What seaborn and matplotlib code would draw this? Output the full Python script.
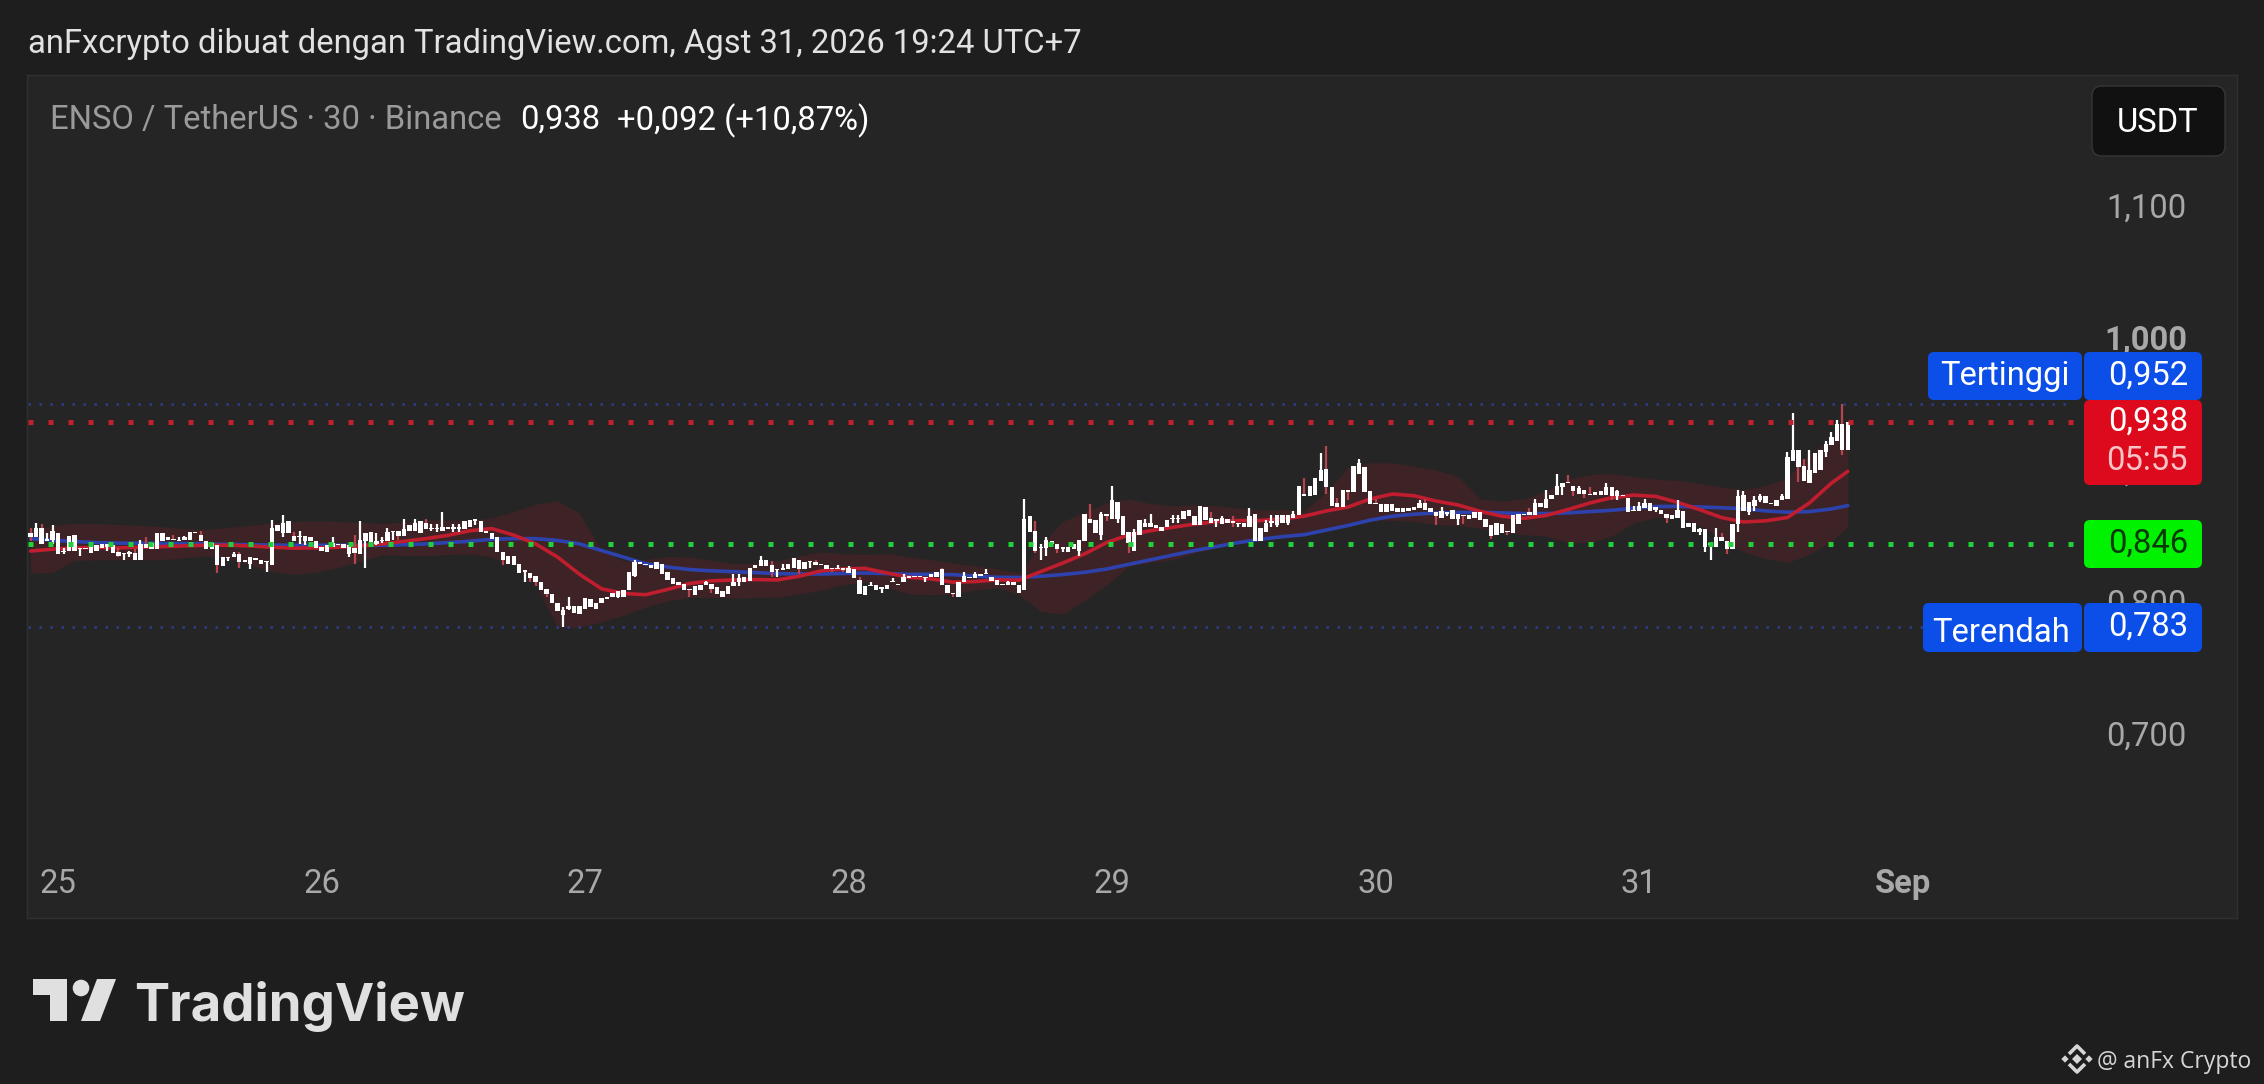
import numpy as np
import pandas as pd
import seaborn as sns
import matplotlib
matplotlib.use("Agg")
import matplotlib.pyplot as plt
from matplotlib.patches import FancyBboxPatch, Polygon, Circle
from matplotlib.transforms import ScaledTranslation

# ==================================================
# DATA  (30 min candles, prices in 1/1000 USDT)
# ==================================================
highs = [
    858,862,861,854,860,854,843,852,853,843, 843,846,845,846,846,845,843,839,841,842,
    849,851,847,854,854,851,853,851,852,855, 855,856,848,847,845,836,836,840,840,834,
    836,835,834,833,864,860,868,863,855,856, 852,851,848,844,845,851,846,846,845,853,
    863,854,855,854,851,858,856,856,865,860, 865,863,865,861,861,870,859,861,861,863,
    864,865,863,856,854,851,840,837,837,831, 826,824,822,817,812,808,801,798,806,799,
    799,805,804,801,805,806,809,810,811,825, 834,832,831,830,832,831,825,820,817,816,
    812,814,815,818,816,813,810,814,823,823, 821,828,830,837,834,833,827,831,831,835,
    834,832,833,834,831,830,828,830,828,829, 827,821,814,817,815,813,815,820,816,823,
    822,822,822,821,823,825,828,815,809,817, 825,821,825,823,827,821,819,816,818,817,
    815,880,867,863,846,851,848,846,844,844, 846,849,869,876,864,870,869,890,878,867,
    855,857,864,865,869,860,859,864,868,868, 871,872,867,875,874,870,865,867,865,867,
    862,862,873,869,858,864,868,868,868,868, 871,890,896,890,896,915,920,889,881,887,
    887,905,910,904,886,880,876,876,876,873, 873,873,874,879,880,873,870,874,870,872,
    869,868,868,870,870,865,860,862,861,856, 868,869,869,873,880,877,887,883,899,892,
    898,890,890,887,889,885,886,892,889,887, 883,881,875,878,880,877,874,872,869,868,
    879,871,862,862,858,857,847,858,854,848, 861,887,886,878,882,884,882,877,879,884,
    916,945,917,910,917,915,917,924,931,940,952,938,
]
body_tops = [
    854,858,858,850,856,854,841,852,853,843, 843,846,845,846,846,845,840,839,840,839,
    846,846,847,854,854,851,850,849,851,855, 855,853,848,847,845,836,836,838,838,834,
    836,835,834,833,858,860,862,863,852,852, 852,851,848,844,845,847,846,846,845,843,
    849,854,855,848,849,855,856,856,857,860, 862,863,862,858,858,859,859,859,859,863,
    864,865,863,856,854,851,840,837,837,831, 826,824,822,817,812,808,801,796,799,799,
    799,805,804,801,805,806,809,810,811,825, 832,832,831,830,832,831,825,820,817,816,
    812,814,815,817,816,813,810,814,817,820, 821,828,830,834,834,830,827,828,831,835,
    834,832,833,832,831,830,828,828,828,828, 827,819,814,815,815,813,815,818,816,821,
    822,822,822,821,823,825,827,815,809,817, 822,821,823,823,824,821,819,816,817,817,
    815,865,867,856,844,849,848,846,844,844, 846,849,869,865,864,869,869,879,878,867,
    855,855,864,862,862,860,859,864,866,866, 871,872,867,875,874,866,865,866,865,863,
    862,862,867,869,858,862,863,868,868,868, 869,890,884,890,896,902,903,889,877,887,
    887,905,907,904,886,877,876,876,876,873, 873,873,874,877,877,873,870,871,870,872,
    869,868,868,870,870,865,860,862,861,856, 868,869,869,870,877,877,880,883,890,892,
    893,890,888,887,884,885,886,889,889,886, 883,881,872,875,877,877,874,872,869,868,
    872,871,862,862,857,857,847,851,851,848, 861,882,883,878,879,882,882,877,879,882,
    912,917,917,905,902,915,917,922,927,937,937,938,
]
body_bottoms = [
    851,851,846,848,849,838,840,841,841,842, 842,839,841,843,844,839,837,838,838,834,
    834,843,842,842,848,849,849,848,849,849, 854,848,842,842,830,829,835,836,832,832,
    831,834,831,832,830,856,854,854,848,851, 848,848,843,841,840,844,845,843,838,839,
    838,848,847,846,848,848,855,852,852,856, 856,854,857,857,857,856,857,857,857,857,
    859,863,855,854,850,840,834,831,830,824, 825,820,817,811,808,801,795,792,797,794,
    793,797,798,797,801,804,806,806,806,811, 822,831,830,828,827,823,819,816,815,811,
    811,807,811,815,812,808,806,808,814,817, 817,818,828,829,829,825,826,826,827,828,
    827,827,832,830,830,827,827,827,826,824, 820,808,807,814,811,812,812,817,815,817,
    820,821,821,820,821,821,815,809,808,806, 817,820,820,822,823,818,815,815,815,815,
    809,811,855,841,843,843,846,842,842,840, 842,841,848,862,854,853,867,865,865,853,
    847,841,853,859,859,858,856,859,865,865, 865,867,860,860,864,862,863,861,862,862,
    861,859,859,848,848,855,862,860,862,862, 866,868,882,882,883,894,889,875,874,874,
    885,885,899,885,876,876,870,870,871,870, 870,871,872,873,872,870,867,866,869,865,
    865,867,865,866,864,859,852,853,854,855, 854,861,868,868,868,874,873,880,883,889,
    892,886,884,884,883,883,883,883,882,882, 882,870,871,871,873,871,872,869,866,865,
    866,858,859,855,855,844,845,844,848,842, 842,861,871,870,875,879,877,876,875,879,
    880,909,904,894,892,900,902,916,921,924,917,917,
]
lows = [
    848,851,846,848,846,838,838,841,841,837, 842,839,841,843,841,839,836,834,836,834,
    834,843,842,842,848,849,849,848,849,849, 854,848,842,842,824,829,833,836,828,832,
    827,834,831,825,830,856,851,854,848,846, 845,848,843,841,840,844,845,843,836,831,
    838,828,847,845,847,848,849,849,852,856, 856,854,857,856,855,856,857,855,855,857,
    859,860,855,854,850,840,830,831,830,824, 817,817,814,811,806,801,795,783,796,794,
    793,797,798,797,801,804,806,805,806,811, 821,831,830,828,827,823,819,816,815,811,
    806,807,811,815,809,808,806,808,814,814, 817,818,828,829,829,821,821,826,827,828,
    823,827,828,830,830,827,825,827,825,824, 820,808,807,814,811,809,812,817,815,817,
    820,821,821,817,821,821,815,809,806,806, 817,820,820,822,823,818,815,815,815,815,
    809,811,855,839,834,837,846,839,840,840, 842,837,848,862,854,849,863,865,862,853,
    839,841,853,859,859,858,856,859,862,862, 865,867,860,860,864,862,859,861,862,859,
    859,859,859,848,848,855,859,859,862,860, 866,868,882,882,883,894,884,875,874,874,
    879,885,899,885,876,876,870,870,871,870, 870,871,872,873,872,870,860,866,867,865,
    860,861,865,866,864,859,850,853,854,853, 854,861,868,868,868,874,873,880,883,883,
    892,882,884,881,883,883,883,883,879,879, 882,870,871,871,873,871,870,869,862,865,
    866,858,859,855,853,840,834,844,848,838, 842,855,871,868,871,878,877,876,875,879,
    880,909,893,894,892,900,902,912,921,924,913,917,
]
# candles whose wick is red instead of white
red_wicks = [0,2,16,19,21,26,31,34,38,48,59,67,72,86,91,92,94,96,113,120,124,135,140,143,
             146,148,151,166,168,183,187,193,196,200,215,219,232,236,238,240,245,254,256,
             261,265,266,269,273,280,281,283,284,288,298,308,309,322,323,330]

# moving averages and their band, read every 4 candles
ma_candles = list(range(0, 329, 4)) + [331]
ma_fast = [840.6,842,843,843.5,843,843.5,844,844.5,845,845,844.5,843.5,842.8,843,843.5,844.5,
           846,848,850,852.5,856,857.6,852.7,846,836,823,812,808.5,807.5,811.5,816,818,
           818.7,819,818.7,821.5,825.6,827,827.5,824,820.7,819.5,817,817.5,818.7,818.5,825,831.5,
           838.5,847,852.8,856,858.6,861,862.9,863.7,863.7,865,867,871,874,880,883.8,882.5,
           878.5,875.5,870.7,867,865.4,867.5,872,877,881,883,882,877.5,872,866,862.6,863.5,
           866,877,892,901]
ma_slow = [850,848.8,847.8,847,846.6,846.5,846.4,846.2,846,845.7,845.4,845.1,845,845,845,845,
           845,845.4,846,847,848,849.5,850,850,848.6,846,841,836,831,828.5,826.6,825.6,
           825,824.3,823.5,823.2,823.2,823.6,824,823.5,823,823,822.7,821.7,820.7,820.6,821.5,822.8,
           824.5,827,830.5,834,837.5,841,844,847,849.5,851.5,853,856.5,860,864,867,868.5,
           869.5,869.8,870,869.5,869,869,869.5,870.5,871.5,873,874.3,874.5,874,873.4,872.7,871,
           870,870.5,872.5,875]
band_upper = [856,860,861.6,861.3,860.8,860,859,857.5,857,858.5,860,862,863,863.3,863,862.3,
              861.6,862.5,864,864,864,865.5,870.4,876,878.7,869,841,833,834,836.5,836,833.5,
              831,831.5,833,837,840,838.5,838,838.5,836,834,831.5,829.5,827,824,845,863,
              870,877,880,876.5,875,875.5,875,873,871.5,872,871,885,904,907.5,907.5,905,
              902,897,880,878.5,880,886,895,898.5,899,897,895,894,892,889,887,890,
              896,914,925,937]
band_lower = [824,824.5,833.5,834,834,834,834,835.5,837,835,830,825,823,824.5,828,833,
              837.5,837.5,837,838,838.5,836,830,815,783,783,787,792,798,803,805.5,805.5,
              805,805.5,805.6,808,811,815,817,813,808,807.5,808,811,813,808,795,793,
              803,815,829,832,834,839,843.5,848,851,851.5,852,857,861,864,864,863,
              861,860,858,855,853,852,847,847,852,862,866,867,860,850,840,835,
              832,838,848,859]

price_high = 0.952
price_low = 0.783
price_last = 0.938
price_prev = 0.846
y_ticks = [0.7, 0.8, 0.9, 1.0, 1.1]
y_labels = ["0,700", "0,800", "0,900", "1,000", "1,100"]
day_ticks = [5, 53, 101, 149, 197, 245, 293, 341]
day_labels = ["25", "26", "27", "28", "29", "30", "31", "Sep"]

# ==================================================
# COLOURS
# ==================================================
FIG_BG = "#1e1e1e"
PANEL_BG = "#262525"
BAND = "#3d2326"
RED_LINE = "#c01d2e"
BLUE_LINE = "#2e42ad"
RED_WICK = "#b5454f"
GREEN_DOT = "#22d039"
RED_DOT = "#c2202e"
BLUE_DOT = "#2d3d8c"
BLUE_BOX = "#0b4ee8"
RED_BOX = "#dc0a1c"
GREEN_BOX = "#00f200"

sns.set_theme(style="dark", rc={"axes.edgecolor": "#303030", "axes.linewidth": 1.0})
plt.rcParams["font.family"] = ["Roboto", "DejaVu Sans"]
FONT = 23.6

# ==================================================
# CHART PANEL
# ==================================================
W, H = 2264, 1084
fig = plt.figure(figsize=(W / 100, H / 100), dpi=100, facecolor=FIG_BG)

PX_L, PX_R, PX_T, PX_B = 27, 2237, 75, 918
ax = fig.add_axes([PX_L / W, 1 - PX_B / H, (PX_R - PX_L) / W, (PX_B - PX_T) / H])
ax.set_facecolor(PANEL_BG)

x = np.arange(len(highs))
hi = np.array(highs) / 1000
lo = np.array(lows) / 1000
top = np.array(body_tops) / 1000
bot = np.array(body_bottoms) / 1000

ma = pd.DataFrame({
    "candle": ma_candles,
    "fast": np.array(ma_fast) / 1000,
    "slow": np.array(ma_slow) / 1000,
    "upper": np.array(band_upper) / 1000,
    "lower": np.array(band_lower) / 1000,
})

ax.fill_between(ma["candle"], ma["lower"], ma["upper"], color=BAND, lw=0, zorder=1)
sns.lineplot(data=ma, x="candle", y="slow", color=BLUE_LINE, lw=2.6, ax=ax, zorder=2, legend=False)
sns.lineplot(data=ma, x="candle", y="fast", color=RED_LINE, lw=2.6, ax=ax, zorder=2, legend=False)

wick_colors = ["white"] * len(x)
for i in red_wicks:
    wick_colors[i] = RED_WICK
ax.vlines(x, lo, hi, colors=wick_colors, lw=1.6, zorder=3)
ax.bar(x, top - bot, bottom=bot, width=0.8, color="white", lw=0, zorder=3.5)

# dotted price levels
x_end = (2073 - 30.6) / 5.49
ax.plot([-0.5, x_end], [price_high] * 2, color=BLUE_DOT, lw=1.8, ls=(0, (1, 3.4)), zorder=1.5)
ax.plot([-0.5, x_end], [price_low] * 2, color=BLUE_DOT, lw=1.8, ls=(0, (1, 3.4)), zorder=1.5)
ax.plot([-0.48, x_end], [price_last] * 2, color=RED_DOT, lw=3.6, ls=(0, (1, 3)), zorder=4)
ax.plot([-0.48, x_end], [price_prev] * 2, color=GREEN_DOT, lw=3.6, ls=(0, (1, 3)), zorder=4)

ax.set_xlim((PX_L - 30.6) / 5.49, (PX_R - 30.6) / 5.49)
ax.set_ylim((952 - (PX_B - 404) / 1.32) / 1000, (952 + (404 - PX_T) / 1.32) / 1000)
ax.set_xlabel("")
ax.set_ylabel("")
ax.grid(False)

ax.set_xticks(day_ticks)
ax.set_xticklabels(day_labels)
ax.tick_params(axis="x", length=0, pad=-36, labelsize=FONT, labelcolor="#a8a8a8")
ax.get_xticklabels()[-1].set_fontweight("bold")

ax.yaxis.tick_right()
ax.set_yticks(y_ticks)
ax.set_yticklabels(y_labels, ha="right")
ax.tick_params(axis="y", length=0, pad=-36, labelsize=FONT, labelcolor="#a8a8a8")
ax.get_yticklabels()[3].set_fontweight("bold")
lift = ScaledTranslation(0, 0.03, fig.dpi_scale_trans)
for t in ax.get_yticklabels():
    t.set_transform(t.get_transform() + lift)

# ==================================================
# OVERLAY  (header, price boxes, logo) in pixels
# ==================================================
ov = fig.add_axes([0, 0, 1, 1], facecolor="none")
ov.set_xlim(0, W)
ov.set_ylim(H, 0)
ov.axis("off")


def box(x0, y0, x1, y1, color, edge="none", r=6):
    ov.add_patch(FancyBboxPatch((x0, y0), x1 - x0, y1 - y0, boxstyle=f"round,pad=0,rounding_size={r}",
                                fc=color, ec=edge, lw=1, zorder=5))


def label(x0, y0, s, color="white", ha="right", size=FONT, **kw):
    ov.text(x0, y0, s, color=color, ha=ha, va="center_baseline", fontsize=size, zorder=6, **kw)


label(28, 40.5, "anFxcrypto dibuat dengan TradingView.com, Agst 31, 2026 19:24 UTC+7",
      color="#e2e2e2", ha="left")
label(50, 116.5, "ENSO / TetherUS · 30 · Binance", color="#9a9a9a", ha="left")
label(520, 116.5, "0,938", ha="left")
label(617, 116.5, "+0,092 (+10,87%)", ha="left")

box(2092, 86, 2225, 156, "#111111", "#363636", r=10)
label(2158, 119.5, "USDT", ha="center")

box(1928, 352, 2082, 400, BLUE_BOX)
box(2084, 352, 2202, 400, BLUE_BOX)
box(2084, 400, 2202, 485, RED_BOX)
box(2084, 520, 2202, 568, GREEN_BOX)
box(1923, 603, 2082, 652, BLUE_BOX)
box(2084, 603, 2202, 652, BLUE_BOX)

label(2070, 372.5, "Tertinggi")
label(2188, 372.5, "0,952")
label(2188, 418, "0,938")
label(2188, 458, "05:55", color="#f9c4c8")
label(2188, 540, "0,846", color="#083a08")
label(2070, 629, "Terendah")
label(2188, 623, "0,783")

# TradingView logo
LOGO = "#e0e0e0"
ov.add_patch(Polygon([(33, 979), (67, 979), (67, 1021), (50, 1021), (50, 995), (33, 995)], fc=LOGO, lw=0))
ov.add_patch(Circle((81, 988), 8.3, fc=LOGO, lw=0))
ov.add_patch(Polygon([(97, 979), (116, 979), (100, 1021), (81, 1021)], fc=LOGO, lw=0))
ov.text(134, 1021, "TradingView", color=LOGO, fontsize=38, family="Inter", weight="bold",
        ha="left", va="baseline")

# watermark
MARK = "#d6d6d6"
cx, cy = 2077, 1059
ov.plot([cx - 8, cx, cx + 8], [cy - 5, cy - 13, cy - 5], color=MARK, lw=2.6, solid_capstyle="butt")
ov.plot([cx - 8, cx, cx + 8], [cy + 5, cy + 13, cy + 5], color=MARK, lw=2.6, solid_capstyle="butt")
ov.scatter([cx - 12, cx, cx + 12], [cy, cy, cy], marker="D", s=[14, 26, 14], color=MARK, lw=0)
ov.text(2097, 1059, "@ anFx Crypto", color=MARK, fontsize=16.5, family="Open Sans",
        ha="left", va="center_baseline")

fig.savefig("out.png", dpi=100, facecolor=FIG_BG)
